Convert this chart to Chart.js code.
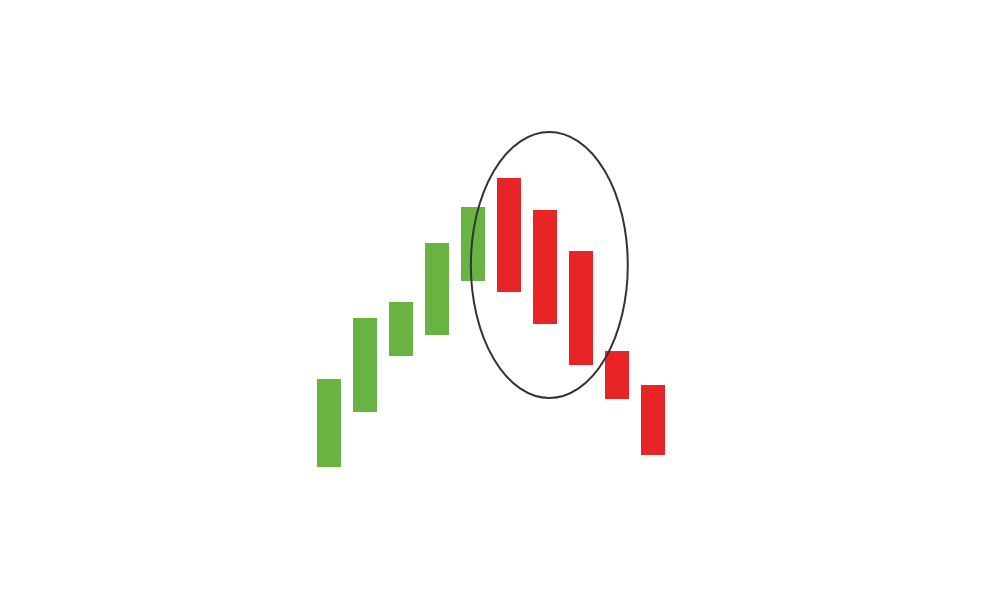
<!DOCTYPE html>
<html>
<head>
<meta charset="utf-8">
<style>
html,body{margin:0;padding:0;background:#fff;}
#wrap{width:1000px;height:600px;}
</style>
<script src="https://cdn.jsdelivr.net/npm/chart.js@4"></script>
</head>
<body>
<div id="wrap"><canvas id="c" width="1000" height="600"></canvas></div>
<script>
const categories = ['1','2','3','4','5','6','7','8','9','10'];
const lows  = [133, 188, 244, 265, 319, 308, 276, 235, 201, 145];
const highs = [221, 282, 298, 357, 393, 422, 390, 349, 249, 215];
const bullish = [true, true, true, true, true, false, false, false, false, false];
// ellipse highlight in data units: center index, center value, radius in index units, radius in value units
const ellipseCenterX = [6.12];
const ellipseCenterY = [335];
const ellipseRadiusX = [2.18];
const ellipseRadiusY = [133];

const GREEN = '#69b342';
const RED = '#e82427';

const ellipsePlugin = {
  id: 'ellipse',
  afterDatasetsDraw(chart) {
    const {ctx, scales} = chart;
    const x = scales.x, y = scales.y;
    const step = x.getPixelForValue(1) - x.getPixelForValue(0);
    const cx = x.getPixelForValue(0) + ellipseCenterX[0] * step;
    const cy = y.getPixelForValue(ellipseCenterY[0]);
    const rx = ellipseRadiusX[0] * step;
    const ry = Math.abs(y.getPixelForValue(ellipseCenterY[0] + ellipseRadiusY[0]) - cy);
    ctx.save();
    ctx.beginPath();
    ctx.ellipse(cx, cy, rx, ry, 0, 0, Math.PI * 2);
    ctx.strokeStyle = '#333333';
    ctx.lineWidth = 2;
    ctx.stroke();
    ctx.restore();
  }
};

new Chart(document.getElementById('c'), {
  type: 'bar',
  data: {
    labels: categories,
    datasets: [{
      data: lows.map((l, i) => [l, highs[i]]),
      backgroundColor: bullish.map(b => b ? GREEN : RED),
      borderWidth: 0,
      barPercentage: 1,
      categoryPercentage: 24 / 36
    }]
  },
  options: {
    responsive: false,
    animation: false,
    devicePixelRatio: 1,
    layout: { padding: { left: 311, right: 329, top: 0, bottom: 0 } },
    plugins: { legend: { display: false }, tooltip: { enabled: false } },
    scales: {
      x: { display: false, offset: true },
      y: { display: false, min: 0, max: 600 }
    }
  },
  plugins: [ellipsePlugin]
});
</script>
</body>
</html>
